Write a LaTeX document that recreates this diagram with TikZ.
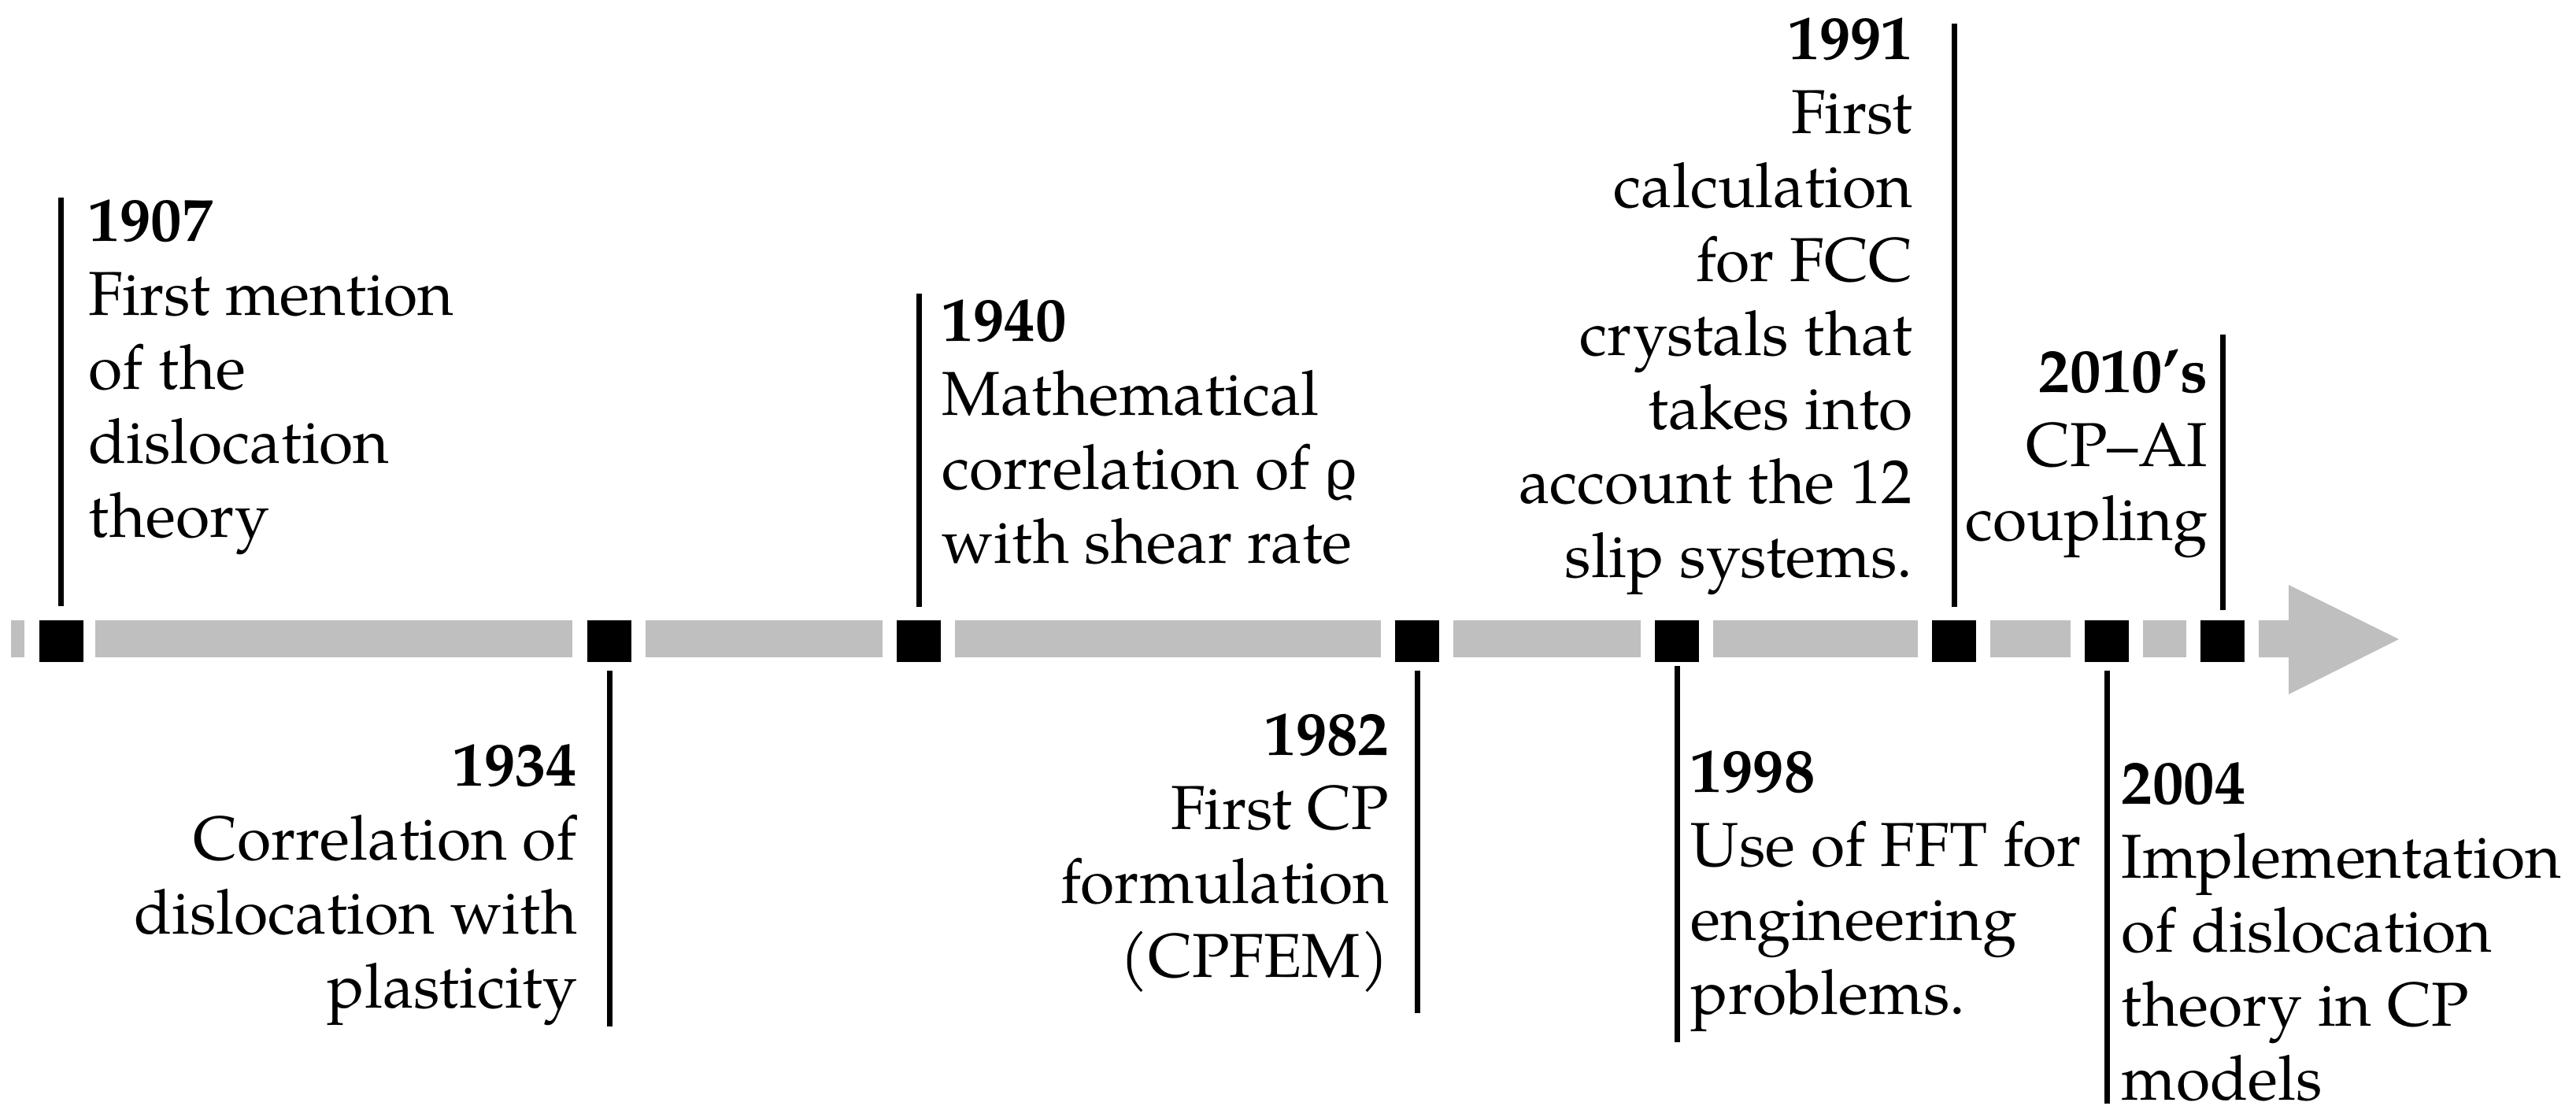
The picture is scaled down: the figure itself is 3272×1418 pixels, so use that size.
\documentclass[tikz,border=0pt]{standalone}
\usepackage{fontspec}
\setmainfont{TeX Gyre Pagella}
\newfontfamily\grk{DejaVu Serif}[Scale=0.88]
\definecolor{bargray}{HTML}{BFBFBF}
\begin{document}
\begin{tikzpicture}[x=0.25pt,y=-0.25pt,
  sq/.style={fill=black,draw=none,minimum width=14pt,minimum height=13.25pt,inner sep=0pt},
  tick/.style={line width=1.75pt,line cap=butt},
  lbl/.style={inner sep=0pt,font=\fontsize{19.7}{23.5}\selectfont},
  lblL/.style={lbl,align=left,anchor=north west},
  lblR/.style={lbl,align=right,anchor=north east}]
\useasboundingbox (0,0) rectangle (3272,1418);
% gray bar segments
\fill[bargray] (14,788) rectangle (31,835);
\fill[bargray] (121,788) rectangle (727,835);
\fill[bargray] (820,788) rectangle (1121,835);
\fill[bargray] (1213,788) rectangle (1754,835);
\fill[bargray] (1846,788) rectangle (2084,835);
\fill[bargray] (2176,788) rectangle (2436,835);
\fill[bargray] (2528,788) rectangle (2630,835);
\fill[bargray] (2722,788) rectangle (2777,835);
\fill[bargray] (2869,788) -- (2907,788) -- (2907,743) -- (3047,812) -- (2907,882) -- (2907,835) -- (2869,835) -- cycle;
% squares
\node[sq] (s1907) at (78,814.5) {};
\node[sq] (s1934) at (774,814.5) {};
\node[sq] (s1940) at (1167,814.5) {};
\node[sq] (s1982) at (1800,814.5) {};
\node[sq] (s1998) at (2130,814.5) {};
\node[sq] (s1991) at (2482,814.5) {};
\node[sq] (s2004) at (2676,814.5) {};
\node[sq] (s2010) at (2823,814.5) {};
% tick end points
\coordinate (a1907) at (77,251);  \coordinate (b1907) at (77,770);
\coordinate (a1940) at (1167,373); \coordinate (b1940) at (1167,771);
\coordinate (a1991) at (2482,30);  \coordinate (b1991) at (2482,771);
\coordinate (a2010) at (2823,425); \coordinate (b2010) at (2823,775);
\coordinate (a1934) at (774,852);  \coordinate (b1934) at (774,1304);
\coordinate (a1982) at (1800,852); \coordinate (b1982) at (1800,1287);
\coordinate (a1998) at (2130,846); \coordinate (b1998) at (2130,1324);
\coordinate (a2004) at (2676,852); \coordinate (b2004) at (2676,1402);
\foreach \y in {1907,1940,1991,2010,1934,1982,1998,2004}
  \draw[tick] (a\y) -- (b\y);
% labels
\node[lblL] (t1907) at (112,253) {\textbf{1907}\\First mention\\of the\\dislocation\\theory};
\node[lblR] (t1934) at (734,945) {\textbf{1934}\\Correlation of\\dislocation with\\plasticity};
\node[lblL] (t1940) at (1196,380) {\textbf{1940}\\Mathematical\\correlation of {\grk ϱ}\\with shear rate};
\node[lblR] (t1982) at (1765,906) {\textbf{1982}\\First CP\\formulation\\(CPFEM)};
\node[lblL] (t1998) at (2147,953) {\textbf{1998}\\Use of FFT for\\engineering\\problems.};
\node[lblR] (t1991) at (2430,22) {\textbf{1991}\\First\\calculation\\for FCC\hspace*{4pt}\\crystals that\hspace*{-5pt}\\takes into\\account the 12\\slip systems.};
\node[lblR] (t2010) at (2805,443) {\textbf{2010’s}\\CP–AI\\coupling};
\node[lblL] (t2004) at (2694,968) {\textbf{2004}\\Implementation\\of dislocation\\theory in CP\\models};
\end{tikzpicture}
\end{document}
